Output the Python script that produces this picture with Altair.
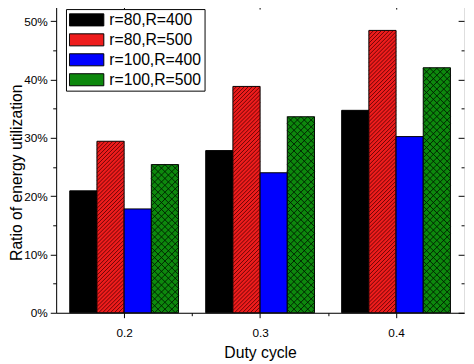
import altair as alt
import numpy as np
import pandas as pd

# ---- data ----
duty = [0.2, 0.3, 0.4]
series = ["r=80,R=400", "r=80,R=500", "r=100,R=400", "r=100,R=500"]
v_r80_R400 = [0.209, 0.278, 0.347]
v_r80_R500 = [0.294, 0.388, 0.484]
v_r100_R400 = [0.178, 0.240, 0.302]
v_r100_R500 = [0.254, 0.336, 0.420]
y_major = [0.0, 0.1, 0.2, 0.3, 0.4, 0.5]
y_minor = [0.05, 0.15, 0.25, 0.35, 0.45]
x_minor = [0.25, 0.35]

colors = ["#000000", "#ee1c1c", "#0000ff", "#0d880d"]
FONT = "Liberation Sans"

W, H = 415, 314
XDOM = [0.15, 0.45]
YDOM = [0.0, 0.529]
BW = 0.02  # bar width in x units

values = [v_r80_R400, v_r80_R500, v_r100_R400, v_r100_R500]
rows = []
for i, (name, vals) in enumerate(zip(series, values)):
    for d, v in zip(duty, vals):
        left = d + (i - 2) * BW
        rows.append({"series": name, "duty": d, "value": v, "x0": left, "x1": left + BW, "idx": i})
df = pd.DataFrame(rows)

# hatch lines derived from the bars (pattern fill emulation)
pxx = W / (XDOM[1] - XDOM[0])
pxy = H / (YDOM[1] - YDOM[0])


def hatch(sub, step, dirs):
    segs = []
    for _, r in sub.iterrows():
        wpx = BW * pxx
        hpx = r["value"] * pxy
        for d in dirs:
            if d > 0:
                cs = np.arange(-wpx + step / 2, hpx, step)
                for c in cs:
                    u0 = max(0.0, -c)
                    u1 = min(wpx, hpx - c)
                    if u1 - u0 > 0.3:
                        segs.append((r["x0"] + u0 / pxx, (u0 + c) / pxy, r["x0"] + u1 / pxx, (u1 + c) / pxy))
            else:
                cs = np.arange(step / 2, hpx + wpx, step)
                for c in cs:
                    u0 = max(0.0, c - hpx)
                    u1 = min(wpx, c)
                    if u1 - u0 > 0.3:
                        segs.append((r["x0"] + u0 / pxx, (c - u0) / pxy, r["x0"] + u1 / pxx, (c - u1) / pxy))
    return pd.DataFrame(segs, columns=["hx", "hy", "hx2", "hy2"])


red_h = hatch(df[df["idx"] == 1], 4.0, [1])
green_h = hatch(df[df["idx"] == 3], 7.0, [1, -1])

xs = alt.Scale(domain=XDOM, nice=False, zero=False)
ys = alt.Scale(domain=YDOM, nice=False, zero=False)

common_axis = dict(
    labelFont=FONT, labelFontSize=12, labelColor="black",
    tickColor="black", tickWidth=1, grid=False, zindex=1,
    titleFont=FONT, titleFontSize=16, titleFontWeight="normal", titleColor="black",
)

bars = alt.Chart(df).mark_bar(stroke="black", strokeWidth=1).encode(
    x=alt.X("x0:Q", scale=xs, axis=alt.Axis(
        orient="bottom", values=duty, format=".1f", tickSize=5, labelPadding=10,
        domain=True, domainColor="black", title="Duty cycle", titlePadding=7, **common_axis)),
    x2="x1:Q",
    y=alt.Y("value:Q", scale=ys, stack=None, axis=alt.Axis(
        orient="left", values=y_major, format=".0%", tickSize=6, labelPadding=3,
        domain=True, domainColor="black", title="Ratio of energy utilization",
        titleX=-40.5, titleY=171, titleBaseline="middle", titleAngle=270, **common_axis)),
    y2=alt.datum(0),
    color=alt.Color("series:N", scale=alt.Scale(domain=series, range=colors), legend=alt.Legend(
        title=None, orient="none", legendX=10, legendY=5,
        labelFont=FONT, labelFontSize=16, labelColor="black", labelOffset=5,
        symbolType="M-1,-0.35H1V0.35H-1Z", symbolSize=1225, symbolStrokeColor="black",
        symbolStrokeWidth=1, symbolOpacity=1, clipHeight=16, rowPadding=4.3, padding=3,
        strokeColor="black", fillColor="white", cornerRadius=0, zindex=2)),
)

red_layer = alt.Chart(red_h).mark_rule(color="#4a0000", strokeWidth=0.8).encode(
    x=alt.X("hx:Q", scale=xs, axis=None), y=alt.Y("hy:Q", scale=ys, axis=None),
    x2="hx2:Q", y2="hy2:Q")
green_layer = alt.Chart(green_h).mark_rule(color="#001a00", strokeWidth=0.9).encode(
    x=alt.X("hx:Q", scale=xs, axis=None), y=alt.Y("hy:Q", scale=ys, axis=None),
    x2="hx2:Q", y2="hy2:Q")


def tick_layer(xaxis, yaxis):
    return alt.Chart(df).mark_point(opacity=0).encode(
        x=alt.X("x0:Q", scale=xs, axis=xaxis), y=alt.Y("value:Q", scale=ys, axis=yaxis))


blank = dict(labels=False, domain=False, title=None, tickColor="black", tickWidth=1, grid=False, zindex=1)
minor_bl = tick_layer(alt.Axis(orient="bottom", values=x_minor, tickSize=3, **blank),
                      alt.Axis(orient="left", values=y_minor, tickSize=3.5, **blank))
major_tr = tick_layer(alt.Axis(orient="top", values=duty, tickSize=5, offset=-5, **blank),
                      alt.Axis(orient="right", values=y_major, tickSize=6, offset=-6, **blank))
minor_tr = tick_layer(alt.Axis(orient="top", values=x_minor, tickSize=3, offset=-3, **blank),
                      alt.Axis(orient="right", values=y_minor, tickSize=3, offset=-3, **blank))

chart = alt.layer(bars, red_layer, green_layer, minor_bl, major_tr, minor_tr).resolve_axis(
    x="independent", y="independent"
).properties(
    width=W, height=H,
    autosize=alt.AutoSizeParams(type="none"),
    padding={"left": 49, "top": -7, "right": 2, "bottom": 48},
).configure_view(stroke="black", strokeWidth=1).configure(background="white")

chart.save("out.html", embed_options={"renderer": "svg", "actions": False})
